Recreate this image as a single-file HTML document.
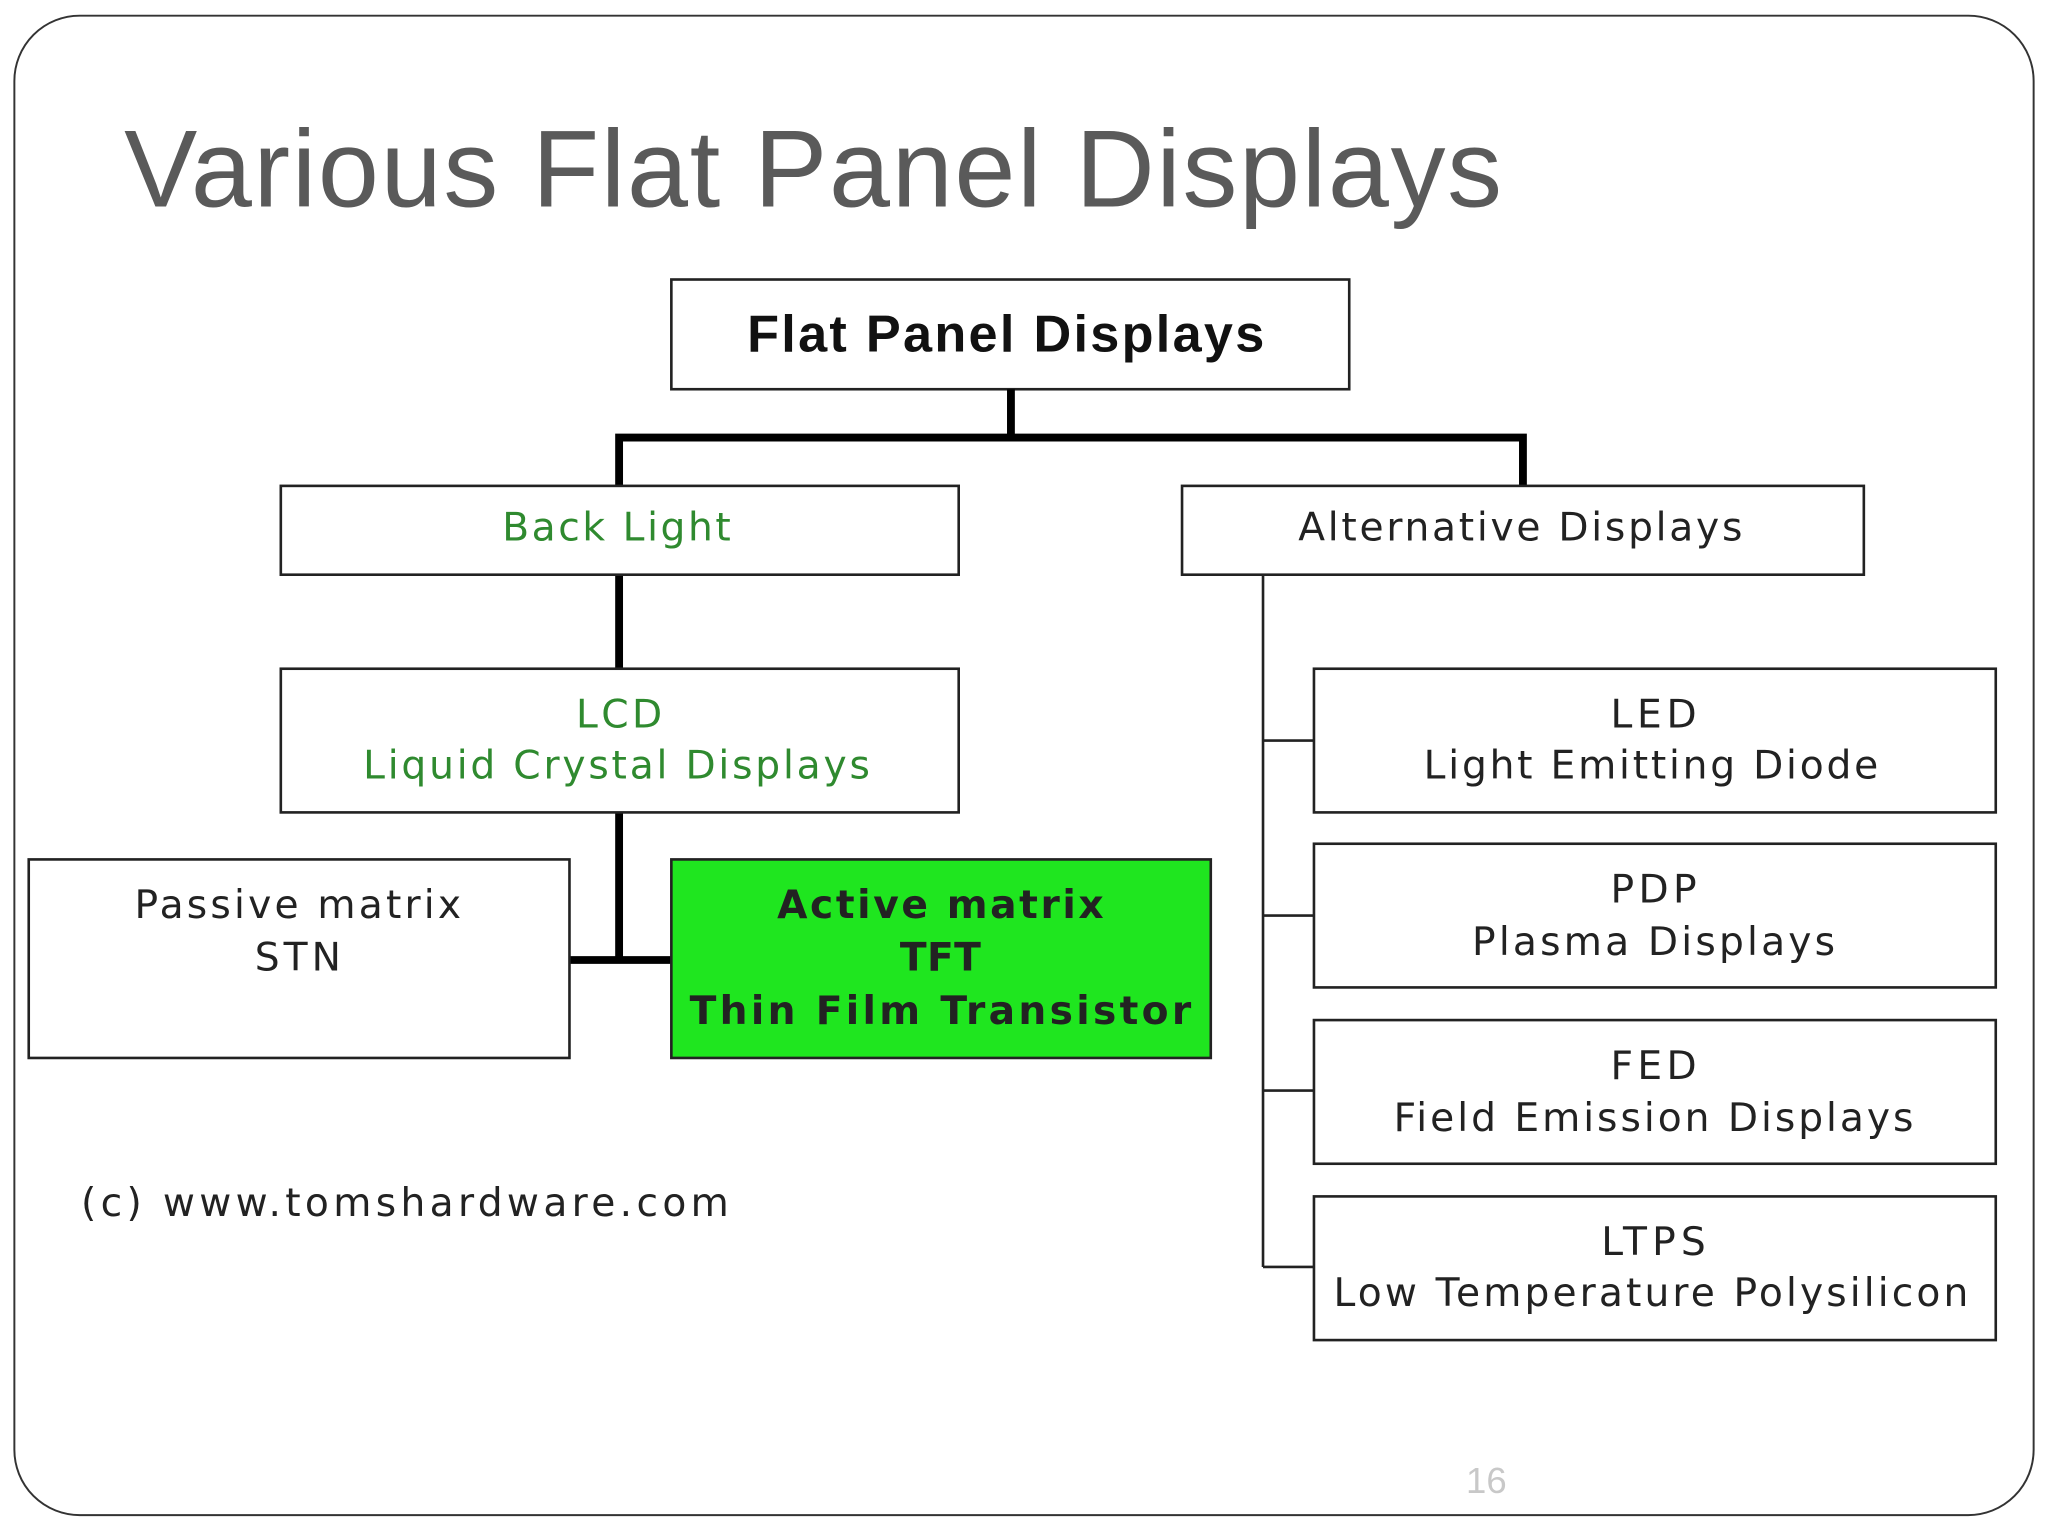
<!DOCTYPE html>
<html><head><meta charset="utf-8"><style>html,body{margin:0;padding:0;background:#fff}svg{display:block}</style></head>
<body>
<svg width="2048" height="1536" viewBox="0 0 1568 1176" preserveAspectRatio="none" xmlns="http://www.w3.org/2000/svg">
<rect x="11" y="12" width="1546" height="1148" rx="50" fill="#fff" stroke="#333" stroke-width="1.5"/>
<text x="95" y="158" font-family="Liberation Sans, sans-serif" font-size="84" fill="#5a5a5a" textLength="1055">Various Flat Panel Displays</text>
<g font-family="DejaVu Sans, sans-serif" text-anchor="middle" lengthAdjust="spacingAndGlyphs">
<rect x="514" y="214" width="519" height="84" fill="#fff" stroke="#222" stroke-width="2"/>
<text x="770" y="269" font-size="40" font-weight="bold" fill="#111" textLength="396" font-family="Liberation Sans, sans-serif">Flat Panel Displays</text>
<g stroke="#000" stroke-width="6" fill="none">
<path d="M774 298V335M474 335H1166M474 332V372M1166 332V372"/>
<path d="M474 440V512M474 622V738M436 735H514"/>
</g>
<g stroke="#222" stroke-width="2" fill="none">
<path d="M967 440V970M967 567H1006M967 701H1006M967 835H1006M967 970H1006"/>
</g>
<rect x="215" y="372" width="519" height="68" fill="#fff" stroke="#222" stroke-width="2"/>
<text x="472" y="414" font-size="30" fill="#2f8a2f" textLength="175">Back Light</text>
<rect x="905" y="372" width="522" height="68" fill="#fff" stroke="#222" stroke-width="2"/>
<text x="1164" y="414" font-size="30" fill="#222" textLength="340">Alternative Displays</text>
<rect x="215" y="512" width="519" height="110" fill="#fff" stroke="#222" stroke-width="2"/>
<text x="474" y="557" font-size="30" fill="#2f8a2f" textLength="66">LCD</text>
<text x="472" y="596" font-size="30" fill="#2f8a2f" textLength="388">Liquid Crystal Displays</text>
<rect x="22" y="658" width="414" height="152" fill="#fff" stroke="#222" stroke-width="2"/>
<text x="228" y="703" font-size="30" fill="#222" textLength="250">Passive matrix</text>
<text x="228" y="743" font-size="30" fill="#222" textLength="66">STN</text>
<rect x="514" y="658" width="413" height="152" fill="#1fe61f" stroke="#222" stroke-width="2"/>
<text x="720" y="703" font-size="30" font-weight="bold" fill="#222" textLength="250">Active matrix</text>
<text x="720" y="743" font-size="30" font-weight="bold" fill="#222" textLength="62">TFT</text>
<text x="720" y="784" font-size="30" font-weight="bold" fill="#222" textLength="384">Thin Film Transistor</text>
<rect x="1006" y="512" width="522" height="110" fill="#fff" stroke="#222" stroke-width="2"/>
<text x="1266" y="557" font-size="30" fill="#222" textLength="66">LED</text>
<text x="1264" y="596" font-size="30" fill="#222" textLength="348">Light Emitting Diode</text>
<rect x="1006" y="646" width="522" height="110" fill="#fff" stroke="#222" stroke-width="2"/>
<text x="1266" y="691" font-size="30" fill="#222" textLength="66">PDP</text>
<text x="1266" y="731" font-size="30" fill="#222" textLength="278">Plasma Displays</text>
<rect x="1006" y="781" width="522" height="110" fill="#fff" stroke="#222" stroke-width="2"/>
<text x="1266" y="826" font-size="30" fill="#222" textLength="66">FED</text>
<text x="1266" y="866" font-size="30" fill="#222" textLength="398">Field Emission Displays</text>
<rect x="1006" y="916" width="522" height="110" fill="#fff" stroke="#222" stroke-width="2"/>
<text x="1266" y="961" font-size="30" fill="#222" textLength="80">LTPS</text>
<text x="1264" y="1000" font-size="30" fill="#222" textLength="486">Low Temperature Polysilicon</text>
<text x="310" y="931" font-size="30" fill="#222" textLength="496">(c) www.tomshardware.com</text>
</g>
<text x="1138" y="1143" font-family="Liberation Sans, sans-serif" font-size="28" fill="#c8c8c8" text-anchor="middle">16</text>
</svg>
</body></html>
